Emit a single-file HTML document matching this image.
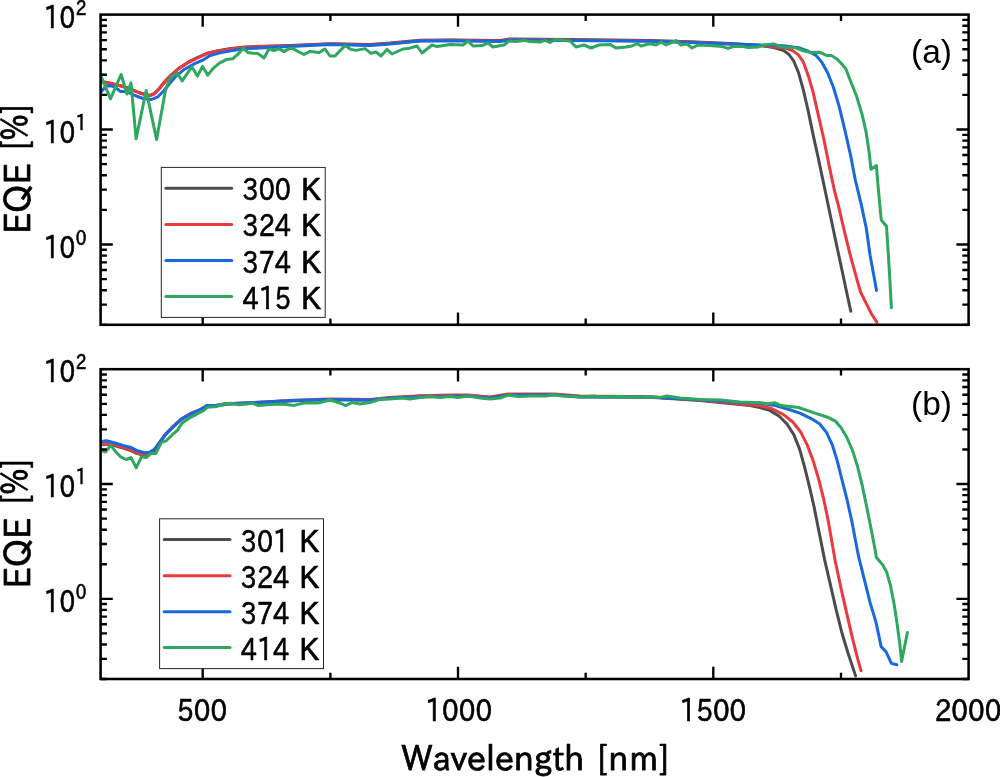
<!DOCTYPE html>
<html lang="en"><head><meta charset="utf-8"><title>EQE vs Wavelength</title>
<style>html,body{margin:0;padding:0;background:#fff;}svg{display:block;}text{font-family:'Liberation Sans', 'Noto Sans CJK JP', sans-serif;fill:#000;}.m{font-family:IPAPGothic, 'Liberation Sans', sans-serif;stroke:#000;stroke-width:0.70;stroke-linejoin:round;}.p{font-family:IPAPGothic, 'Liberation Sans', sans-serif;stroke:#000;stroke-width:0.75;stroke-linejoin:round;}</style>
</head><body>
<svg width="1000" height="777" viewBox="0 0 1000 777">
<rect x="0" y="0" width="1000" height="777" fill="#fff"/>
<g>
<polyline points="101.4,81.6 111.0,83.2 120.6,85.6 130.2,88.8 139.8,92.8 149.4,95.5 154.2,93.6 159.0,88.8 165.4,80.8 171.8,74.4 178.2,68.8 187.8,62.4 197.4,57.6 207.0,53.3 216.6,50.9 229.4,48.8 242.2,47.2 255.0,46.4 290.0,45.5 330.0,43.7 370.0,44.5 390.0,43.1 420.0,40.3 450.0,39.9 500.0,40.5 510.0,39.1 570.0,39.5 650.0,40.5 690.0,41.7 730.0,43.5 760.0,45.3 773.5,47.6 783.2,50.3 789.0,54.5 793.8,61.2 798.6,72.8 803.4,90.2 808.3,111.4 813.1,134.6 818.2,157.8 822.9,180.0 829.0,209.0 836.3,243.7 842.1,270.7 847.0,293.9 850.8,311.3" fill="none" stroke="#4c4c4c" stroke-width="3.00" stroke-linejoin="round" stroke-linecap="round"/>
<polyline points="101.4,82.0 111.0,83.6 120.6,86.0 130.2,89.2 139.8,93.2 149.4,95.9 154.2,94.0 159.0,89.2 165.4,81.2 171.8,74.8 178.2,69.2 187.8,62.8 197.4,58.0 207.0,53.7 216.6,51.3 229.4,49.2 242.2,47.6 255.0,46.8 290.0,45.9 330.0,44.1 370.0,44.9 390.0,43.5 420.0,40.7 450.0,40.3 500.0,40.9 510.0,39.5 570.0,39.9 650.0,40.9 690.0,42.1 730.0,43.9 760.0,45.7 773.5,46.8 785.1,48.1 792.8,50.6 798.6,55.1 803.4,62.2 808.3,75.7 813.1,92.1 817.9,113.4 823.7,138.5 829.5,167.4 834.3,190.0 838.3,205.1 844.1,230.2 849.8,253.4 855.6,274.6 860.5,292.0 865.3,301.6 871.1,313.2 876.9,322.3" fill="none" stroke="#ea3a3e" stroke-width="3.00" stroke-linejoin="round" stroke-linecap="round"/>
<polyline points="101.4,91.6 106.2,86.0 111.0,85.7 115.8,87.6 120.6,91.6 127.0,91.6 133.4,94.8 143.0,98.5 151.0,99.6 157.4,97.2 163.8,90.8 170.2,82.8 176.6,75.6 184.6,69.2 194.2,63.9 203.8,59.6 210.2,55.6 219.8,52.9 232.6,50.5 245.4,48.6 255.0,48.2 290.0,46.6 330.0,44.6 370.0,45.6 390.0,44.0 420.0,41.0 450.0,40.8 500.0,41.6 510.0,40.0 570.0,40.4 650.0,41.2 690.0,42.4 730.0,44.0 760.0,45.0 783.2,45.8 798.6,47.7 808.3,51.2 816.0,55.4 821.8,62.2 827.6,72.8 833.4,87.3 839.2,106.6 845.0,130.7 850.7,155.8 855.3,180.0 861.4,205.1 866.3,228.3 870.1,255.3 874.0,276.5 876.5,290.4" fill="none" stroke="#1968dc" stroke-width="3.00" stroke-linejoin="round" stroke-linecap="round"/>
<polyline points="101.4,77.2 110.5,98.8 121.1,74.5 127.0,94.0 131.0,82.8 136.1,138.8 146.2,90.5 156.6,139.6 165.4,90.8 168.6,81.2 171.8,76.4 177.4,73.5 182.2,80.9 191.8,66.8 197.4,76.1 202.5,66.5 207.8,75.1 213.4,68.1 219.8,62.8 226.2,59.6 232.6,58.8 238.2,54.0 243.3,48.1 247.8,52.4 253.0,53.2 258.0,53.6 264.0,58.0 269.0,49.0 274.0,50.6 279.0,48.6 284.0,51.6 289.0,48.6 293.0,48.6 299.0,52.0 304.0,54.4 310.0,51.4 319.0,52.6 325.0,49.0 330.0,56.0 335.0,56.0 345.0,45.6 351.0,49.4 356.0,50.4 365.0,48.6 371.0,53.4 376.0,52.0 381.0,56.0 387.0,49.4 392.0,54.0 403.0,49.0 408.0,48.6 417.0,46.0 422.0,53.0 432.0,45.0 437.0,46.6 450.0,44.6 463.0,45.0 468.0,41.0 473.0,46.0 482.0,45.6 488.0,43.0 493.0,47.0 504.0,45.0 509.0,41.0 516.0,41.6 524.0,40.4 530.0,41.6 540.0,42.0 545.0,40.4 550.0,42.4 555.0,39.4 570.0,41.0 576.0,47.0 584.0,45.0 591.0,48.0 599.0,45.0 610.0,44.4 616.0,48.0 626.0,47.0 632.0,46.0 637.0,43.6 641.0,46.0 650.0,43.8 656.0,45.0 661.0,42.0 666.0,45.0 676.0,40.6 681.0,45.0 687.0,44.0 692.0,48.0 698.0,45.0 710.0,45.6 722.0,46.4 728.0,48.4 734.0,46.4 742.0,46.4 748.0,47.6 758.0,47.0 764.0,45.0 773.5,43.9 783.2,47.3 794.7,47.6 804.0,51.0 810.0,52.4 819.8,52.3 826.6,55.4 831.4,55.6 837.2,59.3 842.0,64.1 845.9,69.0 850.7,81.5 856.5,96.0 862.3,115.3 866.2,132.7 869.1,152.0 871.0,169.3 876.4,165.5 877.8,182.9 879.8,205.1 881.3,220.0 886.5,226.3 888.5,257.2 890.0,282.3 891.4,307.8" fill="none" stroke="#2ea75f" stroke-width="3.00" stroke-linejoin="round" stroke-linecap="round"/>
</g>
<path d="M202.7 14.6V26.8M202.7 324.8V312.6M458.0 14.6V26.8M458.0 324.8V312.6M713.3 14.6V26.8M713.3 324.8V312.6M330.4 14.6V20.9M330.4 324.8V318.5M585.7 14.6V20.9M585.7 324.8V318.5M841.0 14.6V20.9M841.0 324.8V318.5M100.6 324.8H106.9M968.6 324.8H962.3M100.6 304.6H106.9M968.6 304.6H962.3M100.6 290.2H106.9M968.6 290.2H962.3M100.6 279.1H106.9M968.6 279.1H962.3M100.6 270.0H106.9M968.6 270.0H962.3M100.6 262.3H106.9M968.6 262.3H962.3M100.6 255.6H106.9M968.6 255.6H962.3M100.6 249.7H106.9M968.6 249.7H962.3M100.6 244.5H112.8M968.6 244.5H956.4M100.6 209.8H106.9M968.6 209.8H962.3M100.6 189.6H106.9M968.6 189.6H962.3M100.6 175.2H106.9M968.6 175.2H962.3M100.6 164.1H106.9M968.6 164.1H962.3M100.6 155.0H106.9M968.6 155.0H962.3M100.6 147.3H106.9M968.6 147.3H962.3M100.6 140.6H106.9M968.6 140.6H962.3M100.6 134.8H106.9M968.6 134.8H962.3M100.6 129.5H112.8M968.6 129.5H956.4M100.6 94.9H106.9M968.6 94.9H962.3M100.6 74.7H106.9M968.6 74.7H962.3M100.6 60.3H106.9M968.6 60.3H962.3M100.6 49.2H106.9M968.6 49.2H962.3M100.6 40.1H106.9M968.6 40.1H962.3M100.6 32.4H106.9M968.6 32.4H962.3M100.6 25.7H106.9M968.6 25.7H962.3M100.6 19.8H106.9M968.6 19.8H962.3" stroke="#000" stroke-width="2.35" fill="none"/>
<rect x="161.3" y="167.4" width="163.9" height="150.0" fill="#fff" stroke="#262626" stroke-width="1"/>
<line x1="165.9" y1="188.3" x2="231.7" y2="188.3" stroke="#4c4c4c" stroke-width="3" stroke-linecap="round"/>
<text class="m" x="242.5" y="200.3" font-size="31"><tspan textLength="48.4" lengthAdjust="spacingAndGlyphs">300</tspan><tspan dx="1.5"> K</tspan></text>
<line x1="165.9" y1="224.4" x2="231.7" y2="224.4" stroke="#ea3a3e" stroke-width="3" stroke-linecap="round"/>
<text class="m" x="242.5" y="236.4" font-size="31"><tspan textLength="48.4" lengthAdjust="spacingAndGlyphs">324</tspan><tspan dx="1.5"> K</tspan></text>
<line x1="165.9" y1="260.5" x2="231.7" y2="260.5" stroke="#1968dc" stroke-width="3" stroke-linecap="round"/>
<text class="m" x="242.5" y="272.5" font-size="31"><tspan textLength="48.4" lengthAdjust="spacingAndGlyphs">374</tspan><tspan dx="1.5"> K</tspan></text>
<line x1="165.9" y1="296.6" x2="231.7" y2="296.6" stroke="#2ea75f" stroke-width="3" stroke-linecap="round"/>
<text class="m" x="242.5" y="308.6" font-size="31"><tspan textLength="48.4" lengthAdjust="spacingAndGlyphs">415</tspan><tspan dx="1.5"> K</tspan></text>
<rect x="100.6" y="14.6" width="868.0" height="310.2" fill="none" stroke="#000" stroke-width="2.55"/>
<text class="m" transform="translate(43.8 27.8) scale(0.805 1)" font-size="31">10<tspan font-size="21" dy="-13.2" dx="0.6">2</tspan></text>
<text class="m" transform="translate(43.8 142.7) scale(0.805 1)" font-size="31">10<tspan font-size="21" dy="-13.2" dx="0.6">1</tspan></text>
<text class="m" transform="translate(43.8 257.7) scale(0.805 1)" font-size="31">10<tspan font-size="21" dy="-13.2" dx="0.6">0</tspan></text>
<text x="931.5" y="62.5" font-size="33.5" text-anchor="middle">(a)</text>
<text class="p" transform="translate(30.3 234.1) rotate(-90)" font-size="35.6">EQE</text>
<text class="p" transform="translate(27.2 149.7) rotate(-90) scale(0.87 1)" font-size="35.6">[%]</text>
<g>
<polyline points="101.4,444.9 106.2,444.0 114.2,445.6 123.8,448.2 130.2,450.2 136.6,453.4 144.6,455.5 149.4,454.0 154.2,450.4 159.0,443.8 165.4,434.8 173.4,426.6 181.4,419.4 191.0,413.8 200.6,410.0 207.0,406.2 216.6,405.9 226.2,404.3 239.0,403.8 255.0,403.0 290.0,401.0 330.0,399.6 370.0,400.2 390.0,398.0 420.0,396.3 450.0,395.5 468.0,395.5 490.0,397.6 508.0,394.7 554.0,394.5 580.0,396.7 650.0,397.3 700.0,400.5 730.0,403.6 750.0,405.6 760.0,407.5 769.7,410.4 779.3,416.2 787.0,424.0 793.8,434.6 799.6,449.1 804.4,466.4 809.2,485.7 814.1,507.0 817.9,526.3 824.7,560.1 830.5,585.2 836.3,610.3 842.1,633.5 847.9,652.8 855.6,675.9" fill="none" stroke="#4c4c4c" stroke-width="3.00" stroke-linejoin="round" stroke-linecap="round"/>
<polyline points="101.4,444.3 106.2,443.4 114.2,445.0 123.8,447.6 130.2,449.6 136.6,452.8 144.6,454.9 149.4,453.4 154.2,449.8 159.0,443.2 165.4,434.2 173.4,426.0 181.4,418.8 191.0,413.2 200.6,409.4 207.0,405.6 216.6,405.3 226.2,403.7 239.0,403.2 255.0,402.4 290.0,400.4 330.0,399.0 370.0,399.6 390.0,397.4 420.0,395.7 450.0,394.9 468.0,394.9 490.0,397.0 508.0,394.1 554.0,393.9 580.0,396.1 650.0,396.7 700.0,399.9 730.0,403.0 750.0,405.0 760.0,405.6 771.6,408.5 783.2,414.3 792.8,422.0 800.5,431.7 807.3,445.2 813.1,460.6 818.9,479.9 823.7,499.2 828.5,522.4 835.4,562.0 841.2,589.1 846.9,614.2 852.7,639.2 857.6,658.6 861.0,670.7" fill="none" stroke="#ea3a3e" stroke-width="3.00" stroke-linejoin="round" stroke-linecap="round"/>
<polyline points="101.4,441.6 106.2,440.8 114.2,442.7 123.8,445.6 130.2,447.2 136.6,450.4 144.6,452.8 149.4,452.3 154.2,449.6 159.0,443.2 165.4,434.4 173.4,426.4 181.4,419.2 191.0,413.6 200.6,409.6 207.0,405.6 216.6,405.3 226.2,403.7 239.0,403.2 255.0,402.4 290.0,400.6 330.0,399.4 370.0,400.0 390.0,398.0 420.0,397.1 450.0,396.3 468.0,395.9 490.0,397.9 508.0,395.1 554.0,394.7 580.0,396.9 650.0,397.1 700.0,399.7 740.0,402.5 760.0,403.1 775.4,405.6 789.0,409.5 800.5,413.3 812.1,419.1 819.8,424.0 826.6,432.6 832.4,445.2 837.2,460.6 842.0,479.9 846.9,499.2 851.7,520.5 858.5,556.2 864.3,579.4 870.1,602.6 875.9,621.9 878.8,635.4 881.1,646.6 886.1,651.8 891.4,663.4 896.8,664.7" fill="none" stroke="#1968dc" stroke-width="3.00" stroke-linejoin="round" stroke-linecap="round"/>
<polyline points="101.4,450.4 105.4,452.0 111.0,445.3 115.8,452.0 120.6,456.8 126.2,459.5 131.0,457.6 136.3,467.7 141.4,456.8 146.2,457.6 151.0,453.6 155.8,453.6 161.4,442.4 166.2,440.8 171.8,435.2 177.4,430.4 182.2,422.9 191.0,417.1 203.8,410.4 207.8,407.2 216.6,406.4 223.0,404.0 231.0,403.2 239.0,404.8 247.0,404.0 252.0,403.2 258.0,405.4 270.0,404.6 282.0,404.0 294.0,405.4 304.0,403.0 318.0,403.0 330.0,400.0 340.0,403.0 345.6,405.6 352.0,402.6 360.0,404.0 370.0,402.6 380.0,399.4 390.0,399.0 402.0,398.0 410.0,399.0 420.0,397.4 430.0,396.6 440.0,397.4 450.0,396.4 458.0,397.4 468.0,396.0 480.0,398.0 490.0,399.0 500.0,398.0 508.0,395.0 518.0,396.6 530.0,396.0 546.0,396.0 554.0,394.6 562.0,396.0 580.0,397.0 594.0,396.0 600.0,397.0 620.0,396.6 640.0,397.4 650.0,396.8 660.0,397.4 667.0,396.0 680.0,398.0 700.0,399.4 720.0,400.0 740.0,402.0 760.0,402.8 767.7,403.7 774.5,402.7 781.2,405.6 798.6,407.5 814.1,412.8 827.6,417.2 835.3,421.1 841.1,427.8 846.9,437.5 852.7,451.0 857.5,466.4 862.3,485.7 867.1,508.9 871.0,528.2 874.9,548.5 876.3,557.2 882.7,564.9 886.5,571.7 890.4,585.2 894.2,604.5 897.1,623.8 899.7,643.1 901.6,661.5 907.4,632.5" fill="none" stroke="#2ea75f" stroke-width="3.00" stroke-linejoin="round" stroke-linecap="round"/>
</g>
<path d="M202.7 369.2V381.4M202.7 679.0V666.8M458.0 369.2V381.4M458.0 679.0V666.8M713.3 369.2V381.4M713.3 679.0V666.8M330.4 369.2V375.6M330.4 679.0V672.7M585.7 369.2V375.6M585.7 679.0V672.7M841.0 369.2V375.6M841.0 679.0V672.7M100.6 679.0H106.9M968.6 679.0H962.3M100.6 658.8H106.9M968.6 658.8H962.3M100.6 644.5H106.9M968.6 644.5H962.3M100.6 633.3H106.9M968.6 633.3H962.3M100.6 624.2H106.9M968.6 624.2H962.3M100.6 616.6H106.9M968.6 616.6H962.3M100.6 609.9H106.9M968.6 609.9H962.3M100.6 604.0H106.9M968.6 604.0H962.3M100.6 598.8H112.8M968.6 598.8H956.4M100.6 564.2H106.9M968.6 564.2H962.3M100.6 544.0H106.9M968.6 544.0H962.3M100.6 529.7H106.9M968.6 529.7H962.3M100.6 518.6H106.9M968.6 518.6H962.3M100.6 509.5H106.9M968.6 509.5H962.3M100.6 501.8H106.9M968.6 501.8H962.3M100.6 495.1H106.9M968.6 495.1H962.3M100.6 489.3H106.9M968.6 489.3H962.3M100.6 484.0H112.8M968.6 484.0H956.4M100.6 449.5H106.9M968.6 449.5H962.3M100.6 429.3H106.9M968.6 429.3H962.3M100.6 414.9H106.9M968.6 414.9H962.3M100.6 403.8H106.9M968.6 403.8H962.3M100.6 394.7H106.9M968.6 394.7H962.3M100.6 387.0H106.9M968.6 387.0H962.3M100.6 380.4H106.9M968.6 380.4H962.3M100.6 374.5H106.9M968.6 374.5H962.3" stroke="#000" stroke-width="2.35" fill="none"/>
<rect x="159.6" y="518.8" width="163.9" height="149.8" fill="#fff" stroke="#262626" stroke-width="1"/>
<line x1="164.2" y1="539.6" x2="230.0" y2="539.6" stroke="#4c4c4c" stroke-width="3" stroke-linecap="round"/>
<text class="m" x="240.8" y="551.6" font-size="31"><tspan textLength="48.4" lengthAdjust="spacingAndGlyphs">301</tspan><tspan dx="1.5"> K</tspan></text>
<line x1="164.2" y1="575.7" x2="230.0" y2="575.7" stroke="#ea3a3e" stroke-width="3" stroke-linecap="round"/>
<text class="m" x="240.8" y="587.7" font-size="31"><tspan textLength="48.4" lengthAdjust="spacingAndGlyphs">324</tspan><tspan dx="1.5"> K</tspan></text>
<line x1="164.2" y1="611.8" x2="230.0" y2="611.8" stroke="#1968dc" stroke-width="3" stroke-linecap="round"/>
<text class="m" x="240.8" y="623.8" font-size="31"><tspan textLength="48.4" lengthAdjust="spacingAndGlyphs">374</tspan><tspan dx="1.5"> K</tspan></text>
<line x1="164.2" y1="647.6" x2="230.0" y2="647.6" stroke="#2ea75f" stroke-width="3" stroke-linecap="round"/>
<text class="m" x="240.8" y="659.6" font-size="31"><tspan textLength="48.4" lengthAdjust="spacingAndGlyphs">414</tspan><tspan dx="1.5"> K</tspan></text>
<rect x="100.6" y="369.2" width="868.0" height="309.8" fill="none" stroke="#000" stroke-width="2.55"/>
<text class="m" transform="translate(43.8 382.4) scale(0.805 1)" font-size="31">10<tspan font-size="21" dy="-13.2" dx="0.6">2</tspan></text>
<text class="m" transform="translate(43.8 497.2) scale(0.805 1)" font-size="31">10<tspan font-size="21" dy="-13.2" dx="0.6">1</tspan></text>
<text class="m" transform="translate(43.8 612.0) scale(0.805 1)" font-size="31">10<tspan font-size="21" dy="-13.2" dx="0.6">0</tspan></text>
<text x="931.5" y="415.1" font-size="33.5" text-anchor="middle">(b)</text>
<text class="p" transform="translate(30.3 588.5) rotate(-90)" font-size="35.6">EQE</text>
<text class="p" transform="translate(27.2 504.1) rotate(-90) scale(0.87 1)" font-size="35.6">[%]</text>
<text class="m" transform="translate(202.1 721) scale(0.855 1)" font-size="31" text-anchor="middle">500</text>
<text class="m" transform="translate(458.7 721) scale(0.855 1)" font-size="31" text-anchor="middle">1000</text>
<text class="m" transform="translate(712.9 721) scale(0.855 1)" font-size="31" text-anchor="middle">1500</text>
<text class="m" transform="translate(968.0 721) scale(0.855 1)" font-size="31" text-anchor="middle">2000</text>
<text class="p" x="401.6" y="770" font-size="33.3" word-spacing="4.3">Wavelength <tspan letter-spacing="0.8">[nm]</tspan></text>
</svg>
</body></html>
